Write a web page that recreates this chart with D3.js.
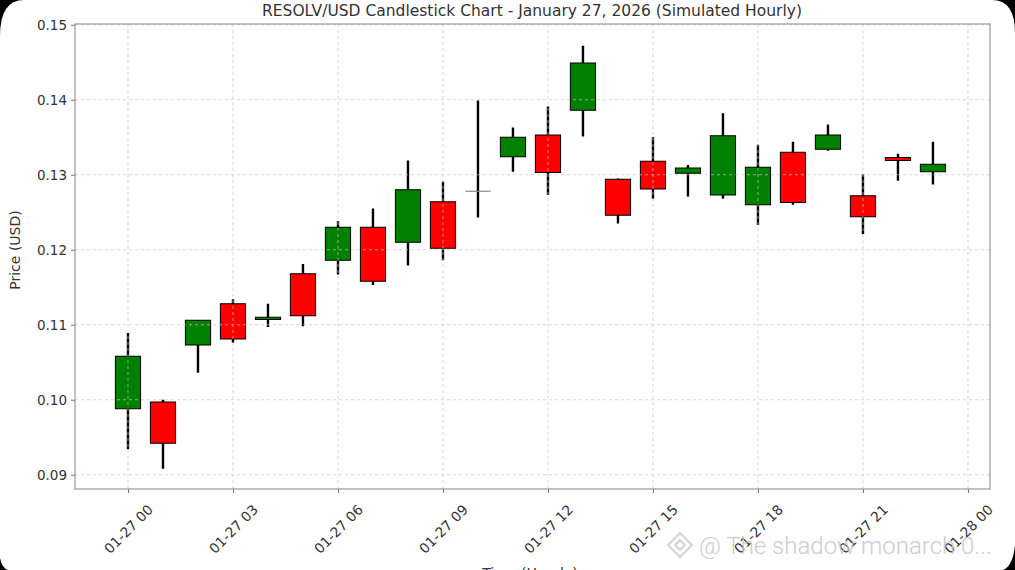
<!DOCTYPE html>
<html><head><meta charset="utf-8">
<script src="https://cdn.jsdelivr.net/npm/d3@7"></script>
<style>html,body{margin:0;padding:0;background:#000;}svg{display:block;}</style>
</head><body>
<svg id="c" width="1015" height="570"></svg>
<script>
const hours = [0,1,2,3,4,5,6,7,8,9,10,11,12,13,14,15,16,17,18,19,20,21,22,23];
const openP  = [0.0988,0.0997,0.1073,0.1128,0.1107,0.1168,0.1186,0.1230,0.1210,0.1264,0.1278,0.1324,0.1353,0.1386,0.1294,0.1318,0.1302,0.1273,0.1260,0.1330,0.1334,0.1272,0.1323,0.1304];
const highP  = [0.1089,0.1000,0.1106,0.1134,0.1128,0.1181,0.1238,0.1255,0.1319,0.1291,0.1399,0.1363,0.1391,0.1472,0.1295,0.1350,0.1313,0.1382,0.1340,0.1344,0.1367,0.1301,0.1328,0.1344];
const lowP   = [0.0934,0.0908,0.1036,0.1076,0.1097,0.1098,0.1167,0.1153,0.1179,0.1186,0.1243,0.1304,0.1273,0.1351,0.1235,0.1268,0.1271,0.1268,0.1233,0.1260,0.1332,0.1221,0.1292,0.1287];
const closeP = [0.1058,0.0942,0.1106,0.1081,0.1110,0.1112,0.1230,0.1158,0.1280,0.1202,0.1278,0.1350,0.1303,0.1449,0.1246,0.1281,0.1309,0.1352,0.1310,0.1263,0.1353,0.1244,0.1319,0.1314];
const xTickHours = [0,3,6,9,12,15,18,21,24];
const xTickLabels = ["01-27 00","01-27 03","01-27 06","01-27 09","01-27 12","01-27 15","01-27 18","01-27 21","01-28 00"];
const yTicks = [0.09,0.10,0.11,0.12,0.13,0.14,0.15];
const titleText = "RESOLV/USD Candlestick Chart - January 27, 2026 (Simulated Hourly)";
const xLabel = "Time (Hourly)";
const yLabel = "Price (USD)";
const watermark = "@ The shadow monarch 0...";

const svg = d3.select("#c");
const W = 1015, H = 570;
const L = 75, R = 990, T = 24, B = 489;
const font = "DejaVu Sans, sans-serif";

// screen frame
svg.append("rect").attr("width", W).attr("height", H).attr("fill", "#000");
svg.append("path")
  .attr("d", "M24,0 L992,0 Q1015,0 1015,33 L1015,545 Q1013,566 1003,570 L8,570 Q2,568 0,558 L0,36 Q0,0 24,0 Z")
  .attr("fill", "#fff");

const x = d3.scaleLinear().domain([-1.514, 24.63]).range([L, R]);
const y = d3.scaleLinear().domain([0.0881, 0.1501]).range([B, T]);
const bw = x(0.72) - x(0);

const data = hours.map((h, i) => ({h, o: openP[i], hi: highP[i], lo: lowP[i], c: closeP[i]}));

const g = svg.append("g");

// wicks
g.selectAll(".wick").data(data).enter().append("line")
  .attr("x1", d => x(d.h)).attr("x2", d => x(d.h))
  .attr("y1", d => y(d.hi)).attr("y2", d => y(d.lo))
  .attr("stroke", "#000").attr("stroke-width", 2.4);

// bodies
g.selectAll(".body").data(data.filter(d => d.o !== d.c)).enter().append("rect")
  .attr("x", d => x(d.h) - bw / 2)
  .attr("width", bw)
  .attr("y", d => y(Math.max(d.o, d.c)))
  .attr("height", d => Math.max(1, y(Math.min(d.o, d.c)) - y(Math.max(d.o, d.c))))
  .attr("fill", d => d.c > d.o ? "#008000" : "#ff0000")
  .attr("stroke", "#000").attr("stroke-width", 1);

// doji (open == close)
g.selectAll(".doji").data(data.filter(d => d.o === d.c)).enter().append("line")
  .attr("x1", d => x(d.h) - bw / 2).attr("x2", d => x(d.h) + bw / 2)
  .attr("y1", d => y(d.o)).attr("y2", d => y(d.o))
  .attr("stroke", "#888").attr("stroke-width", 1.2);

// grid (drawn above bodies, semi-transparent)
const grid = svg.append("g").attr("stroke", "#c4c4c4").attr("stroke-opacity", 0.7)
  .attr("stroke-width", 1).attr("stroke-dasharray", "3,3");
grid.selectAll(".gx").data(xTickHours).enter().append("line")
  .attr("x1", d => x(d)).attr("x2", d => x(d)).attr("y1", T).attr("y2", B);
grid.selectAll(".gy").data(yTicks).enter().append("line")
  .attr("y1", d => y(d)).attr("y2", d => y(d)).attr("x1", L).attr("x2", R);

// frame
svg.append("rect").attr("x", L).attr("y", T).attr("width", R - L).attr("height", B - T)
  .attr("fill", "none").attr("stroke", "#999").attr("stroke-width", 1.2);

// axes
const yAxis = d3.axisLeft(y).tickValues(yTicks).tickFormat(d3.format(".2f")).tickSize(4).tickPadding(4);
const ya = svg.append("g").attr("transform", `translate(${L},0)`).call(yAxis);
ya.select(".domain").remove();
ya.selectAll(".tick line").attr("stroke", "#777");
ya.selectAll(".tick text").attr("font-family", font).attr("font-size", 13.5).attr("fill", "#333");

const xAxis = d3.axisBottom(x).tickValues(xTickHours).tickFormat((d, i) => xTickLabels[i]).tickSize(4).tickPadding(0);
const xa = svg.append("g").attr("transform", `translate(0,${B})`).call(xAxis);
xa.select(".domain").remove();
xa.selectAll(".tick line").attr("stroke", "#777");
xa.selectAll(".tick text")
  .attr("font-family", font).attr("font-size", 13.8).attr("fill", "#333")
  .attr("text-anchor", "middle").attr("dy", null).attr("dominant-baseline", "central")
  .attr("y", 40)
  .attr("transform", "rotate(-45 0 40)");

// title & labels
svg.append("text").attr("x", 532).attr("y", 16).attr("text-anchor", "middle")
  .attr("font-family", font).attr("font-size", 15.5).attr("fill", "#333").text(titleText);
svg.append("text").attr("transform", "translate(20,250) rotate(-90)").attr("text-anchor", "middle")
  .attr("font-family", font).attr("font-size", 14).attr("fill", "#333").text(yLabel);
svg.append("text").attr("x", 530).attr("y", 578).attr("text-anchor", "middle")
  .attr("font-family", font).attr("font-size", 14).attr("fill", "#333").text(xLabel);

// watermark
const wm = svg.append("g").attr("opacity", 0.9);
const lg = wm.append("g").attr("transform", "translate(680,545)").attr("fill", "none").attr("stroke", "#cfcfcf").attr("stroke-width", 2);
lg.append("path").attr("d", "M0,-12 L12,0 L0,12 L-12,0 Z");
lg.append("path").attr("d", "M0,-5 L5,0 L0,5 L-5,0 Z");
wm.append("text").attr("x", 699).attr("y", 554).attr("font-family", "Roboto, sans-serif").attr("font-weight", 300)
  .attr("font-size", 24).attr("fill", "#c8c8c8").text(watermark);
</script>
</body></html>
